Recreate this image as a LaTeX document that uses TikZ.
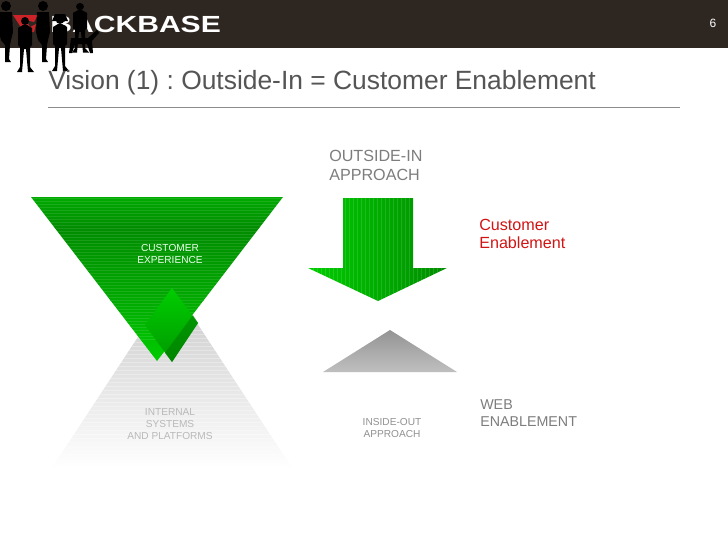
\documentclass[tikz,border=0pt]{standalone}
\usepackage{fontspec}
\setmainfont{Liberation Sans}
\usetikzlibrary{positioning, shadings}
\definecolor{headbar}{RGB}{46,39,33}
\definecolor{titlegray}{RGB}{85,85,85}
\definecolor{labelgray}{RGB}{125,125,125}
\definecolor{palegray}{RGB}{185,185,185}
\definecolor{logored}{RGB}{205,35,40}
\definecolor{greendark}{RGB}{0,140,0}
\definecolor{greenmid}{RGB}{0,170,0}
\definecolor{greenlight}{RGB}{0,205,0}
\definecolor{enabred}{RGB}{210,20,20}
\tikzset{
  x=0.75pt, y=-0.75pt,
  caption/.style={inner sep=0pt, align=center, text=labelgray, font=\fontsize{7.6}{8.8}\selectfont},
  bigcaption/.style={inner sep=0pt, align=left, text=labelgray, font=\fontsize{12.1}{13.6}\selectfont},
  figure/.style={fill=black, draw=none},
  manfig/.pic={
    \fill[figure] (0,4) circle (4);
    \fill[figure] (-2,8) -- (2,8) -- (7,11) -- (7,28) -- (5,30) -- (5,50) -- (9,55) -- (3,55) -- (1,32) -- (-1,32) -- (-3,55) -- (-8,55) -- (-5,50) -- (-5,30) -- (-7,28) -- (-7,11) -- cycle;
  },
  womanfig/.pic={
    \fill[figure] (0,6) circle (5);
    \fill[figure] (-6,12) -- (6,12) -- (7,32) -- (5,40) -- (4,45) -- (3,59) -- (5,62) -- (-1,62) -- (-1,45) -- (-5,40) -- (-7,32) -- cycle;
  }
}
\frenchspacing
\begin{document}
\begin{tikzpicture}
\useasboundingbox (0,0) rectangle (728,546);
\fill[white] (0,0) rectangle (728,546);
% header
\fill[headbar] (0,0) rectangle (728,48);
\fill[logored] (13,15) -- (38,15) -- (34,22) -- (26,20) -- (30,27) -- (36,24) -- (34,32) -- (24,32) -- cycle;
\node[inner sep=0pt, anchor=west, text=white, font=\fontsize{17.5}{18}\bfseries\selectfont, xscale=1.29] (brand) at (50,24) {BACKBASE};
\node[inner sep=0pt, text=white, font=\fontsize{9}{10}\selectfont] (pageno) at (713,23) {6};
% people
\pic at (6,0) {womanfig};
\pic at (25,17) {manfig};
\pic at (43,0) {womanfig};
\pic at (60,16) {manfig};
\fill[figure] (52,21) -- (68,21) -- (65,14) -- (55,14) -- cycle;
\pic[yscale=0.9] at (80,3) {manfig};
\fill[figure] (71,38) -- (88,38) -- (97,30) -- (99,33) -- (92,41) -- (93,53) -- (90,53) -- (87,44) -- (75,44) -- (72,53) -- (69,53) -- cycle;
% title
\node[inner sep=0pt, anchor=base west, text=titlegray, font=\fontsize{19.8}{22}\selectfont] (title) at (48,89) {Vision (1) : Outside-In = Customer Enablement};
\draw[black!45, line width=0.6pt] (48,107) -- (680,107);
% lower gray triangle
\shade[top color=black!22, bottom color=white] (172,285) -- (292,468) -- (52,468) -- cycle;
\begin{scope}
\clip (172,285) -- (292,468) -- (52,468) -- cycle;
\foreach \ly in {330,334,...,468}
  \draw[white, opacity=.3, line width=0.5pt] (40,\ly) -- (300,\ly);
\end{scope}
% upper green triangle
\begin{scope}
\clip (31,197) -- (283,197) -- (157,361) -- cycle;
\shade[top color=greenmid, bottom color=greendark] (20,197) rectangle (290,228);
\shade[top color=greendark, bottom color=greenmid] (20,228) rectangle (290,300);
\shade[top color=greenmid, bottom color=greenlight] (20,300) rectangle (290,362);
\foreach \ly in {198,201,...,340}
  \draw[white, opacity=.1, line width=0.6pt] (20,\ly) -- (290,\ly);
\end{scope}
% diamond
\shade[top color=greenlight, bottom color=green!60!black] (172,288) -- (198,323) -- (172,362) -- (145,325) -- cycle;
\fill[green!45!black, opacity=.5] (193,315) -- (198,323) -- (172,362) -- (165,353) -- cycle;
% arrow
\shade[left color=greenlight, middle color=greenlight!90!black, right color=greendark] (343,198) -- (413,198) -- (413,268) -- (447,268) -- (378,301) -- (308,268) -- (343,268) -- cycle;
\begin{scope}
\clip (343,198) -- (413,198) -- (413,268) -- (447,268) -- (378,301) -- (308,268) -- (343,268) -- cycle;
\foreach \lx in {309,313,...,447}
  \draw[white, opacity=.12, line width=0.6pt] (\lx,195) -- (\lx,305);
\end{scope}
% gray arrow head
\shade[top color=black!42, bottom color=black!25] (390,330) -- (457,372) -- (323,372) -- cycle;
% labels
\node[caption, text=white!92!green] (experience) at (170,254) {CUSTOMER\\EXPERIENCE};
\node[caption, text=palegray] (internal) at (170,424) {INTERNAL\\SYSTEMS\\AND PLATFORMS};
\node[caption, text=labelgray!85] (insideout) at (392,428) {INSIDE-OUT\\APPROACH};
\node[bigcaption, anchor=north west, font=\fontsize{12.1}{14.2}\selectfont] (outsidein) at (329,150) {OUTSIDE-IN\\APPROACH};
\node[bigcaption, anchor=north west, text=enabred] (customer) at (479,219) {Customer\\Enablement};
\node[bigcaption, anchor=north west, font=\fontsize{10.7}{13}\selectfont] (web) at (480,399) {WEB\\ENABLEMENT};
\end{tikzpicture}
\end{document}
